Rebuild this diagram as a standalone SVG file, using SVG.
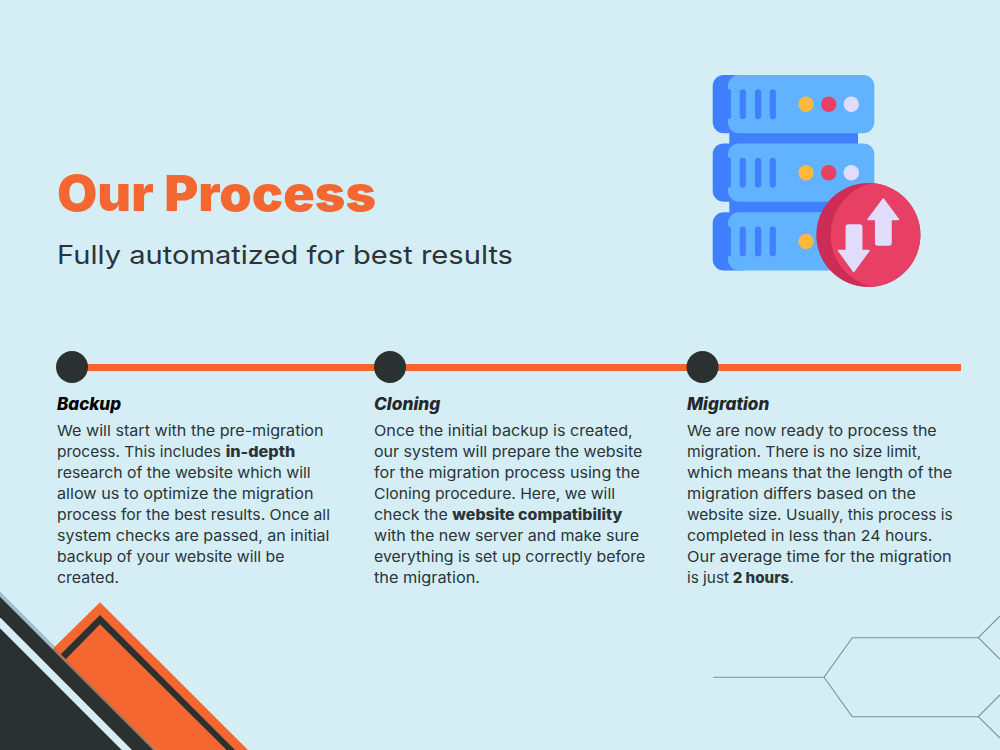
<svg xmlns="http://www.w3.org/2000/svg" width="1000" height="750" viewBox="0 0 1000 750">
<style>
text{font-family:"Inter","Open Sans","Liberation Sans",sans-serif;fill:#2b3437}
.title{font-size:49.5px;font-weight:900;fill:#f56730}
.sub{font-size:25.5px;font-weight:400}
.h{font-size:17px;font-weight:800;font-style:italic;fill:#22292b}
.b{font-size:14.8px;font-weight:400}
.s{font-weight:800}
.l{fill:#62b3ff}.d{fill:#4080ff}.y{fill:#ffb83d}.r{fill:#e83f65}.p{fill:#e0dcfa}
.node{fill:#2b3030}
.wire{fill:none;stroke:#6f939f;stroke-width:1.1}
</style>
<defs>
<g id="unit">
<rect class="d" x="712.7" y="0" width="40" height="58.3" rx="11"/>
<rect class="l" x="728" y="0" width="146.3" height="58.3" rx="11"/>
<rect class="d" x="726" y="14" width="5" height="30" rx="2"/>
<rect class="d" x="739.7" y="14.3" width="6.2" height="30" rx="3"/>
<rect class="d" x="755" y="14.3" width="6.2" height="30" rx="3"/>
<rect class="d" x="769.7" y="14.3" width="6.2" height="30" rx="3"/>
<circle class="y" cx="806" cy="29.3" r="7.7"/>
</g>
</defs>
<rect width="1000" height="750" fill="#d5eef6"/>

<g id="decor-left">
<polygon points="0,591.5 56,647.5 54,651 0,597" fill="#9fbfca"/>
<polygon points="100,602.3 248,750 156.7,750 53.3,648.3" fill="#f56730"/>
<polygon points="60,655 100,615 235,750 226.7,750 100,624.3 65,660" fill="#2b3030"/>
<line x1="53.5" y1="648.5" x2="156" y2="751" stroke="#b96f50" stroke-width="2.4"/>
<polygon points="0,596.7 153.3,750 132,750 0,617.3" fill="#2b3030"/>
<polygon points="0,628.3 121.7,750 0,750" fill="#2b3030"/>
</g>

<g id="decor-right" class="wire">
<polyline points="713.3,677.3 824,677.3 852.3,637.7 978.3,637.7 1000,616"/>
<polyline points="824,677.3 852.3,716.7 978.3,716.7 1000,695"/>
<line x1="978.3" y1="637.7" x2="1000" y2="659.3"/>
<line x1="978.3" y1="716.7" x2="1000" y2="738"/>
</g>

<g id="server">
<rect class="d" x="729.3" y="130" width="128.7" height="16"/>
<rect class="d" x="729.3" y="198" width="128.7" height="16"/>
<use href="#unit" y="75"/>
<use href="#unit" y="143.4"/>
<use href="#unit" y="212.2"/>
<circle class="r" cx="828.7" cy="104.3" r="7.7"/>
<circle class="p" cx="851.3" cy="104.3" r="7.7"/>
<circle class="r" cx="828.7" cy="172.7" r="7.7"/>
<circle class="p" cx="851.3" cy="172.7" r="7.7"/>
</g>
<g id="transfer-badge">
<circle cx="868.3" cy="235" r="52" fill="#cc2c56"/>
<path class="r" d="M871.7,183.1 A52,52 0 0 1 871.7,286.9 A53.3,53.3 0 0 1 871.7,183.1 Z"/>
<path class="p" stroke="#e0dcfa" stroke-width="1.5" stroke-linejoin="round" d="M883.3,199 L898.5,219.5 L891,219.5 L891,243 Q891,245 889,245 L877.5,245 Q875.7,245 875.7,243 L875.7,219.5 L868,219.5 Z"/>
<path class="p" stroke="#e0dcfa" stroke-width="1.5" stroke-linejoin="round" d="M853.7,271.5 L838.5,250.5 L846.3,250.5 L846.3,227 Q846.3,225 848.3,225 L859.7,225 Q861.7,225 861.7,227 L861.7,250.5 L869,250.5 Z"/>
</g>

<g id="heading">
<text class="title" x="57" y="210.7" textLength="319" lengthAdjust="spacingAndGlyphs">Our Process</text>
<text class="sub" x="57" y="264" textLength="456" lengthAdjust="spacingAndGlyphs">Fully automatized for best results</text>
</g>

<g id="connectors">
<rect x="72" y="364" width="889" height="7" fill="#f56730"/>
</g>

<g id="step-backup">
<circle class="node" cx="72" cy="367" r="16"/>
<text class="h" x="57" y="410" textLength="64" lengthAdjust="spacingAndGlyphs" style="fill:#000">Backup</text>
<text class="b" x="57" y="436" textLength="266.5" lengthAdjust="spacingAndGlyphs">We will start with the pre-migration</text>
<text class="b" y="457"><tspan x="57" textLength="164" lengthAdjust="spacingAndGlyphs">process. This includes</tspan> <tspan class="s" x="225.7" textLength="69.5" lengthAdjust="spacingAndGlyphs">in-depth</tspan></text>
<text class="b" x="57" y="478" textLength="253.7" lengthAdjust="spacingAndGlyphs">research of the website which will</text>
<text class="b" x="57" y="499" textLength="256.5" lengthAdjust="spacingAndGlyphs">allow us to optimize the migration</text>
<text class="b" x="57" y="520" textLength="273" lengthAdjust="spacingAndGlyphs">process for the best results. Once all</text>
<text class="b" x="57" y="541" textLength="272.5" lengthAdjust="spacingAndGlyphs">system checks are passed, an initial</text>
<text class="b" x="57" y="562" textLength="227.5" lengthAdjust="spacingAndGlyphs">backup of your website will be</text>
<text class="b" x="57" y="583" textLength="62" lengthAdjust="spacingAndGlyphs">created.</text>
</g>

<g id="step-cloning">
<circle class="node" cx="390" cy="367" r="16"/>
<text class="h" x="374" y="410" textLength="66.3" lengthAdjust="spacingAndGlyphs">Cloning</text>
<text class="b" x="374" y="436" textLength="258.7" lengthAdjust="spacingAndGlyphs">Once the initial backup is created,</text>
<text class="b" x="374" y="457" textLength="268.3" lengthAdjust="spacingAndGlyphs">our system will prepare the website</text>
<text class="b" x="374" y="478" textLength="266" lengthAdjust="spacingAndGlyphs">for the migration process using the</text>
<text class="b" x="374" y="499" textLength="241" lengthAdjust="spacingAndGlyphs">Cloning procedure. Here, we will</text>
<text class="b" y="520"><tspan x="374" textLength="73.7" lengthAdjust="spacingAndGlyphs">check the</tspan> <tspan class="s" x="452.3" textLength="170" lengthAdjust="spacingAndGlyphs">website compatibility</tspan></text>
<text class="b" x="374" y="541" textLength="265" lengthAdjust="spacingAndGlyphs">with the new server and make sure</text>
<text class="b" x="374" y="562" textLength="271.3" lengthAdjust="spacingAndGlyphs">everything is set up correctly before</text>
<text class="b" x="374" y="583" textLength="106" lengthAdjust="spacingAndGlyphs">the migration.</text>
</g>

<g id="step-migration">
<circle class="node" cx="702.5" cy="367" r="16"/>
<text class="h" x="687" y="410" textLength="82.3" lengthAdjust="spacingAndGlyphs">Migration</text>
<text class="b" x="687" y="436" textLength="249.7" lengthAdjust="spacingAndGlyphs">We are now ready to process the</text>
<text class="b" x="687" y="457" textLength="234.3" lengthAdjust="spacingAndGlyphs">migration. There is no size limit,</text>
<text class="b" x="687" y="478" textLength="265.3" lengthAdjust="spacingAndGlyphs">which means that the length of the</text>
<text class="b" x="687" y="499" textLength="229" lengthAdjust="spacingAndGlyphs">migration differs based on the</text>
<text class="b" x="687" y="520" textLength="265.7" lengthAdjust="spacingAndGlyphs">website size. Usually, this process is</text>
<text class="b" x="687" y="541" textLength="245.3" lengthAdjust="spacingAndGlyphs">completed in less than 24 hours.</text>
<text class="b" x="687" y="562" textLength="264.7" lengthAdjust="spacingAndGlyphs">Our average time for the migration</text>
<text class="b" y="583"><tspan x="687" textLength="42" lengthAdjust="spacingAndGlyphs">is just</tspan> <tspan class="s" x="732.7" textLength="56.5" lengthAdjust="spacingAndGlyphs">2 hours</tspan><tspan x="789.5">.</tspan></text>
</g>
</svg>
